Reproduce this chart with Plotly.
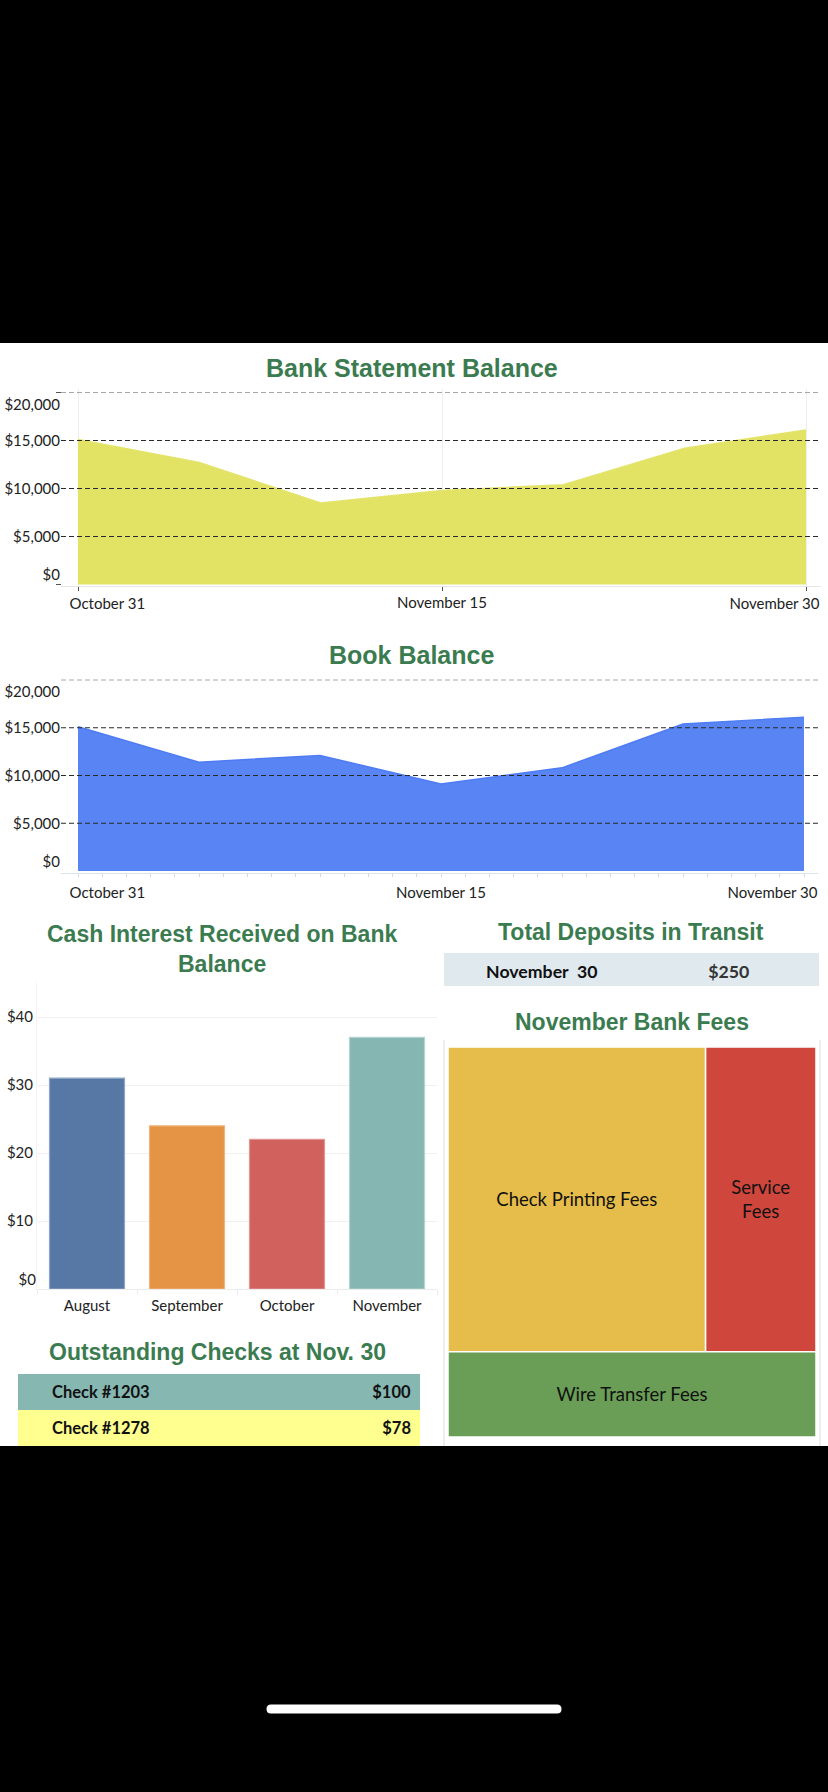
import plotly.graph_objects as go
import pandas as pd

W, H = 828, 1792

# ---------------- data ----------------
dates = ["2023-10-31", "2023-11-05", "2023-11-10", "2023-11-15",
         "2023-11-20", "2023-11-25", "2023-11-30"]
bank_balance = [15100, 12700, 8500, 9800, 10400, 14200, 16100]
book_balance = [15100, 11400, 12100, 9100, 10800, 15400, 16100]
balance_ticks = [0, 5000, 10000, 15000, 20000]
date_ticks = ["2023-10-31", "2023-11-15", "2023-11-30"]
date_tick_labels = ["October 31", "November 15", "November 30"]

months = ["August", "September", "October", "November"]
interest = [31, 24, 22, 37]
interest_ticks = [0, 10, 20, 30, 40]

deposit_date = ["November\u00a0 30"]
deposit_amount = [250]

fee_labels = ["Check Printing Fees", "Service Fees", "Wire Transfer Fees"]
fee_text = ["Check Printing Fees", "Service<br>Fees", "Wire Transfer Fees"]
fee_values = [35, 15, 14]

check_labels = ["Check #1203", "Check #1278"]
check_amounts = [100, 78]

# ---------------- styles ----------------
GREEN = "#3b7b50"
TITLE_FONT = "Liberation Sans, Arial, sans-serif"
TICK_FONT = dict(family="Lato, sans-serif", size=15, color="#222222")
bar_colors = ["#5778a4", "#e49444", "#d1615d", "#85b6b2"]
bar_edges = ["#8fa6c6", "#efb47c", "#e29694", "#b3d3d0"]
fee_colors = ["#e6bd4b", "#cf463c", "#6a9e56"]
check_fills = ["#86b7b1", "#ffff8f"]
deposit_fill = "#dfe9ee"


def px_x(x):
    return x / W


def px_y(y):
    return 1 - y / H


def ydomain(zero_px, top_px, top_val, lo, hi):
    k = (zero_px - top_px) / top_val
    return [px_y(zero_px - lo * k), px_y(zero_px - hi * k)]


def xrange_dates(first_px, last_px, dom0, dom1):
    d0 = pd.Timestamp(dates[0])
    d1 = pd.Timestamp(dates[-1])
    per = (last_px - first_px) / (d1 - d0).total_seconds()
    start = d0 - pd.Timedelta(seconds=(first_px - dom0) / per)
    end = d1 + pd.Timedelta(seconds=(dom1 - last_px) / per)
    return [str(start), str(end)]


def money(v):
    return f"${v:,}"


def ghost(x, y, xa, ya):
    # invisible companion trace so that an overlaying axis gets drawn
    return go.Scatter(x=x, y=y, mode="lines", line=dict(width=0), opacity=0,
                      xaxis=xa, yaxis=ya, hoverinfo="skip", showlegend=False)


fig = go.Figure()

# ---------------- chart 1: bank statement balance ----------------
fig.add_trace(go.Scatter(x=dates, y=bank_balance, mode="lines", fill="tozeroy",
                         fillcolor="#e2e264", line=dict(color="#e4e46c", width=1.5),
                         xaxis="x", yaxis="y", hoverinfo="skip"))
for xa, ya in [("x5", "y"), ("x6", "y"), ("x", "y4"), ("x", "y5")]:
    fig.add_trace(ghost(dates, bank_balance, xa, ya))

# ---------------- chart 2: book balance ----------------
fig.add_trace(go.Scatter(x=dates, y=book_balance, mode="lines", fill="tozeroy",
                         fillcolor="#5984f3", line=dict(color="#4e7cf4", width=1.5),
                         xaxis="x2", yaxis="y2", hoverinfo="skip"))
for xa, ya in [("x7", "y2"), ("x8", "y2"), ("x2", "y6"), ("x2", "y7")]:
    fig.add_trace(ghost(dates, book_balance, xa, ya))

# ---------------- chart 3: interest bars ----------------
fig.add_trace(go.Bar(x=months, y=interest,
                     marker=dict(color=bar_colors, line=dict(color=bar_edges, width=1.2)),
                     xaxis="x3", yaxis="y3", hoverinfo="skip"))
fig.add_trace(ghost(months, interest, "x3", "y8"))

# ---------------- deposits in transit table ----------------
fig.add_trace(go.Table(
    domain=dict(x=[px_x(444), px_x(819)], y=[px_y(986), px_y(952)]),
    columnwidth=[196, 179],
    header=dict(values=["", ""], height=1, line=dict(width=0),
                fill=dict(color="rgba(0,0,0,0)"), font=dict(size=1)),
    cells=dict(values=[[f"<b>{d}</b>" for d in deposit_date],
                       [f"<b>{money(v)}</b>" for v in deposit_amount]],
               height=29, align=["center", "center"],
               fill=dict(color=deposit_fill), line=dict(width=1, color=deposit_fill),
               font=dict(family="Lato, sans-serif", size=17.7, color=["#111111", "#333333"])),
))

# ---------------- outstanding checks table ----------------
n_checks = len(check_labels)
row_fills = [check_fills[:n_checks]] * 3
fig.add_trace(go.Table(
    domain=dict(x=[px_x(18), px_x(419)], y=[px_y(1446), px_y(1373)]),
    columnwidth=[26, 226, 149],
    header=dict(values=["", "", ""], height=1, line=dict(width=0),
                fill=dict(color="rgba(0,0,0,0)"), font=dict(size=1)),
    cells=dict(values=[[""] * n_checks,
                       [f"<b>{c}</b>" for c in check_labels],
                       [f"<b>{money(v)}</b>" for v in check_amounts]],
               height=34, align=["left", "left", "right"],
               fill=dict(color=row_fills), line=dict(width=1, color=row_fills),
               font=dict(family="Lato, sans-serif", size=16.5, color="#111111")),
))

# ---------------- november bank fees treemap ----------------
fig.add_trace(go.Treemap(
    labels=fee_labels, parents=[""] * len(fee_labels), values=fee_values,
    text=fee_text, textinfo="text", textposition="middle center",
    textfont=dict(family="Lato, sans-serif", size=18.5, color="#111111"),
    marker=dict(colors=fee_colors, line=dict(color="white", width=1.5),
                pad=dict(t=0, l=0, r=0, b=0)),
    tiling=dict(packing="squarify", squarifyratio=1.618, pad=0),
    pathbar=dict(visible=False), sort=True, hoverinfo="skip",
    domain=dict(x=[px_x(448), px_x(816)], y=[px_y(1437), px_y(1047)]),
))

# ---------------- axes ----------------
dom1 = [px_x(61), px_x(821)]
rng1 = xrange_dates(78, 806, 61, 821)
dom2 = [px_x(61), px_x(818)]
rng2 = xrange_dates(78, 804, 61, 818)
yr = [-200, 20400]
yd1 = ydomain(584.5, 392.5, 20000, yr[0], yr[1])
yd2 = ydomain(871, 680, 20000, yr[0], yr[1])

common_x = dict(type="date", tickfont=TICK_FONT, zeroline=False, fixedrange=True)
common_y = dict(showgrid=False, zeroline=False, showline=False, tickfont=TICK_FONT,
                fixedrange=True, ticks="")
inner_ticks = balance_ticks[1:-1]


def y_overlay(domain, rng, anchor, over, val, shift):
    return dict(domain=domain, range=rng, anchor=anchor, overlaying=over, tickvals=[val],
                ticktext=[money(val)], ticklabelshift=shift, **common_y)


layout_axes = dict(
    xaxis=dict(domain=dom1, range=rng1, anchor="y", tickvals=[date_ticks[1]],
               ticktext=[date_tick_labels[1]], ticks="outside", ticklen=4, tickcolor="#555555",
               ticklabelstandoff=-1,
               showline=True, linecolor="#e6e6e6", showgrid=True, gridcolor="#eeeeee", **common_x),
    xaxis5=dict(domain=dom1, range=rng1, anchor="y", overlaying="x", tickvals=[date_ticks[0]],
                ticktext=[date_tick_labels[0]], ticks="outside", ticklen=4, tickcolor="#555555",
                ticklabelposition="outside right", ticklabelshift=-9, ticklabelstandoff=4,
                showline=False, showgrid=True, gridcolor="#eeeeee", **common_x),
    xaxis6=dict(domain=dom1, range=rng1, anchor="y", overlaying="x", tickvals=[date_ticks[2]],
                ticktext=[date_tick_labels[2]], ticks="outside", ticklen=4, tickcolor="#555555",
                ticklabelposition="outside left", ticklabelshift=14, ticklabelstandoff=4,
                showline=False, showgrid=True, gridcolor="#eeeeee", **common_x),
    yaxis=dict(domain=yd1, range=yr, anchor="x", tickvals=inner_ticks,
               ticktext=[money(v) for v in inner_ticks], **common_y),
    yaxis4=y_overlay(yd1, yr, "x", "y", balance_ticks[0], -10),
    yaxis5=y_overlay(yd1, yr, "x", "y", balance_ticks[-1], 12),

    xaxis2=dict(domain=dom2, range=rng2, anchor="y2", tickvals=[date_ticks[1]],
                ticktext=[date_tick_labels[1]], ticks="outside", ticklen=3, tickcolor="#d9d9d9",
                ticklabelstandoff=3,
                minor=dict(dtick=86400000, ticks="outside", ticklen=3, tickcolor="#d9d9d9"),
                showline=True, linecolor="#dde3ee", showgrid=False, **common_x),
    xaxis7=dict(domain=dom2, range=rng2, anchor="y2", overlaying="x2", tickvals=[date_ticks[0]],
                ticktext=[date_tick_labels[0]], ticks="outside", ticklen=3, tickcolor="#d9d9d9",
                ticklabelposition="outside right", ticklabelshift=-9, ticklabelstandoff=6,
                showline=False, showgrid=False, **common_x),
    xaxis8=dict(domain=dom2, range=rng2, anchor="y2", overlaying="x2", tickvals=[date_ticks[2]],
                ticktext=[date_tick_labels[2]], ticks="outside", ticklen=3, tickcolor="#d9d9d9",
                ticklabelposition="outside left", ticklabelshift=14, ticklabelstandoff=6,
                showline=False, showgrid=False, **common_x),
    yaxis2=dict(domain=yd2, range=yr, anchor="x2", tickvals=inner_ticks,
                ticktext=[money(v) for v in inner_ticks], **common_y),
    yaxis6=y_overlay(yd2, yr, "x2", "y2", balance_ticks[0], -9),
    yaxis7=y_overlay(yd2, yr, "x2", "y2", balance_ticks[-1], 12),

    xaxis3=dict(domain=[px_x(37), px_x(437)], anchor="y3", type="category",
                tickson="boundaries", ticks="outside", ticklen=5, tickcolor="#ececec",
                ticklabelstandoff=3,
                showline=True, linecolor="#ececec", tickfont=TICK_FONT, fixedrange=True),
    yaxis3=dict(domain=[px_y(1289), px_y(983)], range=[0, 45], anchor="x3",
                tickvals=interest_ticks[1:], ticktext=[money(v) for v in interest_ticks[1:]],
                showgrid=True, gridcolor="#f0f0f0",
                zeroline=False, showline=True, linecolor="#f2f2f2", ticks="",
                tickfont=TICK_FONT, fixedrange=True),
    yaxis8=dict(domain=[px_y(1289), px_y(983)], range=[0, 45], anchor="x3", overlaying="y3",
                tickvals=[interest_ticks[0]], ticktext=[money(interest_ticks[0])],
                ticklabelshift=-9, **common_y),
)

# ---------------- shapes ----------------
shapes = [
    dict(type="rect", xref="paper", yref="paper", x0=0, x1=1, y0=px_y(1446), y1=px_y(343),
         fillcolor="white", line=dict(width=0), layer="below"),
]
for xb in [444, 820]:
    shapes.append(dict(type="line", xref="paper", yref="paper", x0=px_x(xb), x1=px_x(xb),
                       y0=px_y(1446), y1=px_y(1040), line=dict(color="#dddddd", width=1),
                       layer="below"))
for yref in ["y", "y2"]:
    xdom = "x domain" if yref == "y" else "x2 domain"
    for v in balance_ticks[1:]:
        shapes.append(dict(type="line", xref=xdom, yref=yref, x0=0, x1=1, y0=v, y1=v,
                           line=dict(color="#a8a8a8" if v == max(balance_ticks) else "#2a2a2a",
                                     width=1, dash="5px,3px"),
                           layer="above"))
# small axis-end ticks on the statement chart
for v in [balance_ticks[0], balance_ticks[-1]]:
    shapes.append(dict(type="line", xref="paper", yref="y", x0=px_x(56), x1=px_x(61),
                       y0=v, y1=v, line=dict(color="#555555", width=1)))
# phone home indicator
shapes.append(dict(type="path", xref="paper", yref="paper", xsizemode="pixel", ysizemode="pixel",
                   xanchor=px_x(414), yanchor=px_y(1709),
                   path="M -143,-4.5 L 143,-4.5 Q 147.5,-4.5 147.5,0 Q 147.5,4.5 143,4.5 "
                        "L -143,4.5 Q -147.5,4.5 -147.5,0 Q -147.5,-4.5 -143,-4.5 Z",
                   fillcolor="white", line=dict(width=0)))

# ---------------- titles ----------------
titles = [
    ("Bank Statement Balance", 412, 368, 25),
    ("Book Balance", 411, 655, 25),
    ("Cash Interest Received on Bank<br>Balance", 222, 949, 23),
    ("Total Deposits in Transit", 631, 932, 23),
    ("November Bank Fees", 632, 1022, 23),
    ("Outstanding Checks at Nov. 30", 217, 1352, 23),
]
annotations = [dict(text=f"<b>{t}</b>", x=px_x(cx), y=px_y(cy), xref="paper", yref="paper",
                    xanchor="center", yanchor="middle", showarrow=False, align="center",
                    font=dict(family=TITLE_FONT, size=s, color=GREEN))
               for t, cx, cy, s in titles]

fig.update_layout(
    width=W, height=H, margin=dict(l=0, r=0, t=0, b=0),
    paper_bgcolor="#000000", plot_bgcolor="white",
    showlegend=False, bargap=0.25, hovermode=False,
    shapes=shapes, annotations=annotations,
    **layout_axes,
)

fig.write_html("out.html")
